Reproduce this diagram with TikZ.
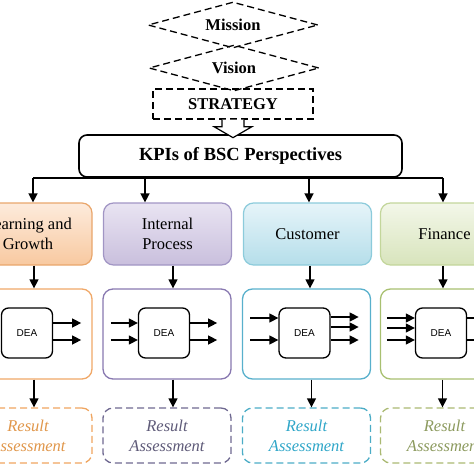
\documentclass[tikz,border=0pt]{standalone}
\usepackage{fontspec}
\setmainfont{Liberation Serif}
\newfontfamily\deafont{Liberation Sans}
\usetikzlibrary{shapes.geometric,arrows.meta}
\definecolor{lgline}{HTML}{E9A66C}\definecolor{lgtop}{HTML}{FDEBDC}\definecolor{lgbot}{HTML}{F8C9A0}
\definecolor{ipline}{HTML}{A195C4}\definecolor{iptop}{HTML}{E9E4F2}\definecolor{ipbot}{HTML}{C9BFDD}
\definecolor{culine}{HTML}{8CCBDB}\definecolor{cutop}{HTML}{E6F4F9}\definecolor{cubot}{HTML}{B5DEEA}
\definecolor{filine}{HTML}{C3D69B}\definecolor{fitop}{HTML}{F3F7E9}\definecolor{fibot}{HTML}{D8E4BC}
\definecolor{lgdea}{HTML}{F0A868}\definecolor{ipdea}{HTML}{8878B0}\definecolor{cudea}{HTML}{58B0CC}\definecolor{fidea}{HTML}{A8C070}
\definecolor{lgres}{HTML}{EFA560}\definecolor{ipres}{HTML}{6E6890}\definecolor{cures}{HTML}{4BACC6}\definecolor{fires}{HTML}{AAB972}
\definecolor{lgtxt}{HTML}{E0964A}\definecolor{iptxt}{HTML}{5E5A78}\definecolor{cutxt}{HTML}{2FA6C8}\definecolor{fitxt}{HTML}{8C9A5E}

\begin{document}
\begin{tikzpicture}[x=1pt,y=-1pt,
  arr/.style={-{Triangle[length=9pt,width=9pt]},line width=1.4pt},
  dashln/.style={dash pattern=on 7pt off 4pt,line width=1.3pt},
  diam/.style={diamond,draw,dashln,shape aspect=3.7,minimum width=170pt,minimum height=46pt,inner sep=0pt,font=\bfseries\fontsize{16.5}{20}\selectfont},
  persp/.style={draw=#1line,top color=#1top,bottom color=#1bot,rounded corners=10pt,line width=1.2pt,minimum width=128pt,minimum height=62pt,align=center,font=\fontsize{16.5}{20}\selectfont},
  outer/.style={draw=#1dea,fill=white,rounded corners=10pt,line width=1.3pt,minimum width=128pt,minimum height=90pt},
  dea/.style={draw,fill=white,rounded corners=7pt,line width=1.3pt,minimum width=51pt,minimum height=50pt,font=\deafont\fontsize{10}{12}\selectfont},
  result/.style={draw=#1res,text=#1txt,dashln,rounded corners=10pt,minimum width=128pt,minimum height=55pt,align=center,font=\itshape\fontsize{16.5}{20}\selectfont}]
\clip (0,0) rectangle (474,474);
% top: mission, vision, strategy
\node[diam] (mission) at (233,25) {Mission};
\node[diam] (vision) at (234,68) {Vision};
\node[draw,dashln,minimum width=160pt,minimum height=30pt,font=\bfseries\fontsize{16.5}{20}\selectfont] (strategy) at (233,104) {STRATEGY};
\node[draw,rounded corners=8pt,line width=1.6pt,minimum width=323pt,minimum height=42pt,font=\bfseries\fontsize{18.5}{22}\selectfont] (kpi) at (240.5,156) {KPIs of BSC Perspectives};
\draw[line width=1.2pt,fill=white,shift={(strategy.south)}] (-11,0) -- (-11,7) -- (-19,7) -- (0,18) -- (19,7) -- (11,7) -- (11,0);
% perspectives
\node[persp=lg] (lg) at (28,234) {Learning and\\Growth};
\node[persp=ip] (ip) at (167.5,234) {Internal\\Process};
\node[persp=cu] (cu) at (307.5,234) {Customer};
\node[persp=fi] (fi) at (444.5,234) {Finance};
% dea
\node[outer=lg] (lgo) at (28,334) {};
\node[outer=ip] (ipo) at (167,334) {};
\node[outer=cu] (cuo) at (306.5,334) {};
\node[outer=fi] (fio) at (444.5,334) {};
\node[dea] (lgd) at (27,333) {DEA};
\node[dea] (ipd) at (164,333) {DEA};
\node[dea] (cud) at (304.5,333) {DEA};
\node[dea] (fid) at (441,333) {DEA};
% results
\node[result=lg] (lgr) at (28,435.5) {Result\\Assessment};
\node[result=ip] (ipr) at (167,435.5) {Result\\Assessment};
\node[result=cu] (cur) at (306.5,435.5) {Result\\Assessment};
\node[result=fi] (fir) at (444.5,435.5) {Result\\Assessment};
% connectors
\draw[line width=1.4pt] ([xshift=5pt]lg.north |- kpi.south) -- ([xshift=-1.5pt]fi.north |- kpi.south);
\draw[arr] ([xshift=5pt]lg.north |- kpi.south) -- ([xshift=5pt]lg.north);
\draw[arr] ([xshift=-22.5pt]ip.north |- kpi.south) -- ([xshift=-22.5pt]ip.north);
\draw[arr] ([xshift=1.5pt]cu.north |- kpi.south) -- ([xshift=1.5pt]cu.north);
\draw[arr] ([xshift=-1.5pt]fi.north |- kpi.south) -- ([xshift=-1.5pt]fi.north);
\draw[arr] ([xshift=6pt]lg.south) -- ([xshift=6pt]lgo.north);
\draw[arr] ([xshift=5.5pt]ip.south) -- ([xshift=6pt]ipo.north);
\draw[arr] ([xshift=2.5pt]cu.south) -- ([xshift=3.5pt]cuo.north);
\draw[arr] ([xshift=-1.5pt]fi.south) -- ([xshift=-1.5pt]fio.north);
\draw[arr] ([xshift=6pt]lgo.south) -- ([xshift=6pt]lgr.north);
\draw[arr] ([xshift=6pt]ipo.south) -- ([xshift=6pt]ipr.north);
\draw[arr] ([xshift=5pt]cuo.south) -- ([xshift=5pt]cur.north);
\draw[arr] ([xshift=-2pt]fio.south) -- ([xshift=-2pt]fir.north);
% dea inputs and outputs
\foreach \dy in {10,-7} {
  \draw[arr,line width=1.3pt] ([yshift=\dy pt]lgd.east) -- ++(28,0);
  \draw[arr,line width=1.3pt] ([yshift=\dy pt,xshift=-27pt]ipd.west) -- ([yshift=\dy pt]ipd.west);
  \draw[arr,line width=1.3pt] ([yshift=\dy pt]ipd.east) -- ++(27,0);
}
\foreach \dy in {15,-7} {
  \draw[arr,line width=1.3pt] ([yshift=\dy pt,xshift=-28pt]cud.west) -- ([yshift=\dy pt]cud.west);
  \draw[arr,line width=1.3pt] ([yshift=\dy pt]fid.east) -- ++(28,0);
}
\foreach \dy in {16,6,-7}
  \draw[arr,line width=1.3pt] ([yshift=\dy pt]cud.east) -- ++(28,0);
\foreach \dy in {15,5,-7}
  \draw[arr,line width=1.3pt] ([yshift=\dy pt,xshift=-28pt]fid.west) -- ([yshift=\dy pt]fid.west);
\end{tikzpicture}
\end{document}
